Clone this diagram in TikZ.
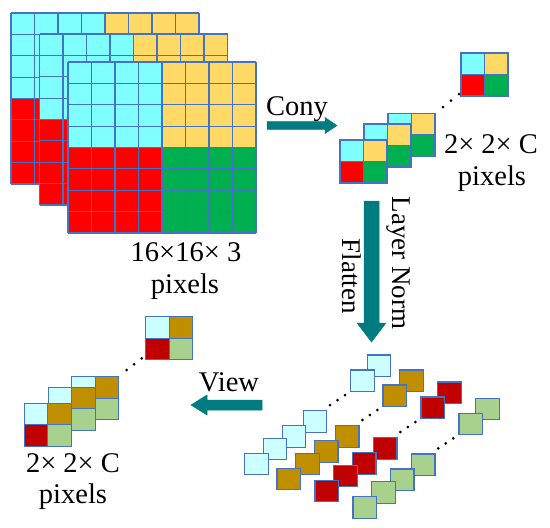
\documentclass[tikz,border=0pt]{standalone}
\usepackage{fontspec}
\setmainfont{Liberation Serif}
\newfontfamily\timesfont{Liberation Serif}
\definecolor{cy}{HTML}{80FFFF}
\definecolor{yl}{HTML}{FFD966}
\definecolor{rd}{HTML}{FF0000}
\definecolor{gr}{HTML}{00B050}
\definecolor{lcy}{HTML}{CCFFFF}
\definecolor{br}{HTML}{BF8F00}
\definecolor{dr}{HTML}{C00000}
\definecolor{lg}{HTML}{A9D18E}
\definecolor{gl}{HTML}{4472C4}
\definecolor{teal}{RGB}{0,124,128}
\tikzset{
  gline/.style={draw=gl, line width=1.1pt},
  arrowbody/.style={fill=teal, draw=teal, line width=0.5pt},
  lbl/.style={inner sep=0pt, font=\timesfont\fontsize{28.5}{30}\selectfont},
  vlbl/.style={inner sep=0pt, font=\timesfont\fontsize{27}{29}\selectfont, rotate=-90},
  dotmark/.style={fill=black}
}
% big 8x8 grid, top-left at (#1,#2)
\newcommand\mybiggrid[2]{%
  \begin{scope}[shift={(#1,#2)}]
    \fill[cy] (0,0) rectangle (94,85.5);
    \fill[yl] (94,0) rectangle (188,85.5);
    \fill[rd] (0,85.5) rectangle (94,171);
    \fill[gr] (94,85.5) rectangle (188,171);
    \foreach \k in {0,...,8}{
      \draw[gline] (\k*23.5,0) -- (\k*23.5,171);
      \draw[gline] (0,\k*21.375) -- (188,\k*21.375);
    }
  \end{scope}}
% 2x2 block, top-left at (#1,#2), colours TL TR BL BR
\newcommand\myblock[6]{%
  \begin{scope}[shift={(#1,#2)}]
    \filldraw[gline, fill=#3] (0,0) rectangle (23.5,21.5);
    \filldraw[gline, fill=#4] (23.5,0) rectangle (47,21.5);
    \filldraw[gline, fill=#5] (0,21.5) rectangle (23.5,43);
    \filldraw[gline, fill=#6] (23.5,21.5) rectangle (47,43);
  \end{scope}}
% one flattened square
\newcommand\mysq[3]{\filldraw[gline, fill=#3] (#1,#2) rectangle ++(23.5,21.5);}
% a flattened row with base (#1,#2) and colour #3
\newcommand\myrow[3]{%
  \begin{scope}[shift={(#1,#2)}]
    \foreach \dx/\dy in {122.7/-98.3, 106/-83.3, 58.5/-42.7, 37.5/-27.7, 18.7/-15, 0/0}{
      \mysq{\dx}{\dy}{#3}
    }
    \foreach \dx/\dy in {85.3/-48.3, 92.8/-53.3, 100.3/-58.3}{
      \fill[dotmark] (\dx,\dy) circle (1.5);
    }
  \end{scope}}
\begin{document}
\begin{tikzpicture}[x=1pt,y=-1pt]
\useasboundingbox (0,0) rectangle (550,528);
% big grids
\mybiggrid{11}{13}
\mybiggrid{39.5}{34}
\mybiggrid{68}{62}
\node[lbl, anchor=base] (dim1) at (186,261.5) {16×16× 3};
\node[lbl, anchor=base] (pix1) at (185,293.5) {pixels};
% Conv arrow
\filldraw[arrowbody] (267,121.7) -- (325,121.7) -- (325,117.5) -- (337,125.5) -- (325,133.5) -- (325,129.3) -- (267,129.3) -- cycle;
\node[lbl, anchor=base west] (conv) at (266,115.7) {Cony};
% top-right stack
\myblock{388}{113.3}{cy}{yl}{rd}{gr}
\myblock{364}{124}{cy}{yl}{rd}{gr}
\myblock{340}{140}{cy}{yl}{rd}{gr}
\myblock{461}{53}{cy}{yl}{rd}{gr}
\foreach \p in {(443,107),(451,100.5),(459,94)}{\fill[dotmark] \p circle (1.5);}
\node[lbl, anchor=base] (dim2) at (491,153.3) {2× 2× C};
\node[lbl, anchor=base] (pix2) at (492,185) {pixels};
% vertical arrow
\filldraw[arrowbody] (364,201) -- (379,201) -- (379,323) -- (386,323) -- (371.5,342) -- (357,323) -- (364,323) -- cycle;
\node[vlbl] (ln) at (398,263) {Layer Norm};
\node[vlbl] (fl) at (351.5,276) {Flatten};
% flattened rows
\myrow{244.7}{453.3}{lcy}
\myrow{277}{468.3}{br}
\myrow{315}{480.3}{dr}
\myrow{353}{496.7}{lg}
% View arrow
\filldraw[arrowbody] (262,400) -- (207,400) -- (207,395) -- (191,405) -- (207,415) -- (207,410) -- (262,410) -- cycle;
\node[lbl, anchor=base] (view) at (229,391.7) {View};
% bottom-left stack
\myblock{71.7}{376.7}{lcy}{br}{dr}{lg}
\myblock{48.3}{387.3}{lcy}{br}{dr}{lg}
\myblock{24.3}{403.3}{lcy}{br}{dr}{lg}
\myblock{145.7}{316.7}{lcy}{br}{dr}{lg}
\foreach \p in {(126.7,370),(134.2,364.2),(141.7,358.3)}{\fill[dotmark] \p circle (1.5);}
\node[lbl, anchor=base] (dim3) at (73,472.7) {2× 2× C};
\node[lbl, anchor=base] (pix3) at (73,503) {pixels};
\end{tikzpicture}
\end{document}
